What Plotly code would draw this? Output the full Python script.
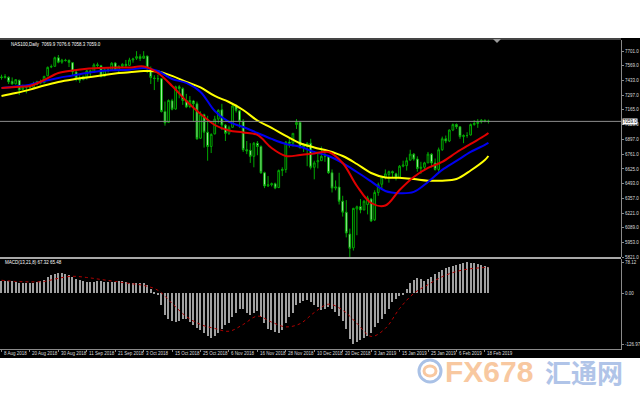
import plotly.graph_objects as go

# --- data (NAS100 daily, 8 Aug 2018 - 19 Feb 2019) ---
opens = [7465, 7460, 7462, 7425, 7402, 7435, 7350, 7368, 7385, 7372,
         7398, 7420, 7412, 7475, 7555, 7562, 7640, 7600, 7618, 7615,
         7595, 7510, 7452, 7440, 7465, 7520, 7508, 7575, 7568, 7472,
         7530, 7530, 7592, 7525, 7562, 7580, 7570, 7620, 7635, 7650,
         7635, 7655, 7540, 7455, 7450, 7448, 7150, 7050, 7248, 7172,
         7375, 7358, 7250, 7195, 7245, 7220, 6905, 7120, 6960, 6830,
         6945, 7080, 7165, 7025, 6950, 7005, 7200, 7155, 7060, 6800,
         6795, 6740, 6860, 6830, 6590, 6470, 6480, 6490, 6455, 6610,
         6620, 6870, 6860, 7030, 7050, 6820, 6830, 6860, 6640, 6690,
         6700, 6740, 6735, 6590, 6450, 6460, 6330, 6230, 6030, 5905,
         6260, 6280, 6250, 6300, 6350, 6160, 6410, 6485, 6550, 6575,
         6600, 6580, 6540, 6650, 6655, 6705, 6760, 6715, 6630, 6640,
         6680, 6760, 6680, 6620, 6800, 6900, 6880, 6980, 7030, 7010,
         6920, 6930, 6935, 7030, 7040, 7055, 7070, 7062]
highs = [7485, 7490, 7470, 7460, 7445, 7438, 7395, 7390, 7395, 7420,
         7430, 7440, 7475, 7560, 7578, 7650, 7665, 7630, 7630, 7625,
         7600, 7530, 7480, 7475, 7530, 7530, 7590, 7595, 7575, 7545,
         7548, 7600, 7600, 7570, 7590, 7620, 7640, 7640, 7700, 7672,
         7700, 7660, 7560, 7480, 7485, 7455, 7240, 7260, 7265, 7385,
         7390, 7370, 7310, 7290, 7255, 7240, 7150, 7130, 7110, 6950,
         7110, 7170, 7220, 7035, 7020, 7210, 7215, 7160, 7080, 6880,
         6860, 6870, 6880, 6840, 6600, 6560, 6500, 6500, 6620, 6640,
         6880, 6900, 6950, 7080, 7060, 6860, 6870, 6900, 6700, 6770,
         6830, 6780, 6740, 6620, 6520, 6590, 6380, 6340, 6080, 6270,
         6290, 6350, 6340, 6380, 6360, 6430, 6500, 6560, 6620, 6610,
         6610, 6590, 6660, 6700, 6730, 6800, 6770, 6740, 6690, 6690,
         6780, 6770, 6720, 6820, 6920, 6930, 6985, 7040, 7040, 7010,
         6940, 6960, 7040, 7070, 7080, 7080, 7075, 7075]
lows = [7440, 7450, 7400, 7395, 7395, 7300, 7345, 7315, 7355, 7368,
        7390, 7398, 7410, 7470, 7545, 7558, 7590, 7585, 7605, 7555,
        7480, 7425, 7410, 7435, 7440, 7470, 7505, 7545, 7460, 7468,
        7505, 7528, 7520, 7490, 7545, 7555, 7565, 7595, 7620, 7610,
        7630, 7500, 7400, 7345, 7420, 7140, 7020, 7045, 7160, 7165,
        7270, 7210, 7180, 7180, 7055, 6890, 6900, 6820, 6700, 6770,
        6940, 7040, 6980, 6880, 6935, 7000, 7140, 7000, 6780, 6760,
        6680, 6640, 6750, 6580, 6450, 6460, 6465, 6440, 6450, 6560,
        6590, 6820, 6830, 6990, 6810, 6780, 6650, 6620, 6530, 6630,
        6700, 6690, 6580, 6410, 6430, 6300, 6190, 6000, 5820, 5880,
        6020, 6220, 6250, 6210, 6140, 6150, 6380, 6450, 6530, 6500,
        6550, 6520, 6540, 6640, 6610, 6700, 6700, 6600, 6580, 6620,
        6680, 6640, 6610, 6600, 6790, 6860, 6870, 6970, 6990, 6900,
        6860, 6910, 6930, 7020, 7000, 7040, 7050, 7040]
closes = [7460, 7468, 7420, 7400, 7440, 7345, 7370, 7380, 7370, 7400,
          7422, 7410, 7470, 7552, 7560, 7640, 7600, 7618, 7615, 7598,
          7510, 7455, 7435, 7470, 7520, 7505, 7575, 7570, 7470, 7530,
          7528, 7590, 7530, 7562, 7580, 7568, 7620, 7628, 7650, 7632,
          7655, 7540, 7460, 7450, 7448, 7150, 7045, 7250, 7170, 7375,
          7360, 7250, 7190, 7250, 7220, 6900, 7120, 6960, 6830, 6940,
          7080, 7160, 7025, 6950, 7000, 7200, 7160, 7060, 6800, 6790,
          6740, 6860, 6830, 6590, 6470, 6480, 6490, 6450, 6610, 6620,
          6870, 6860, 6950, 7050, 6820, 6840, 6860, 6640, 6680, 6700,
          6740, 6740, 6590, 6450, 6460, 6330, 6230, 6040, 5900, 6265,
          6280, 6250, 6330, 6360, 6150, 6410, 6480, 6550, 6580, 6600,
          6590, 6540, 6650, 6660, 6700, 6760, 6715, 6630, 6640, 6680,
          6760, 6680, 6620, 6800, 6900, 6880, 6980, 7030, 7010, 6920,
          6930, 6930, 7030, 7040, 7055, 7070, 7062, 7059]

# moving averages, read every 4th bar
ma_index = [0, 4, 8, 12, 16, 20, 24, 28, 32, 36, 40, 44, 48, 52, 56, 60, 64, 68,
            72, 76, 80, 84, 88, 92, 96, 100, 104, 108, 112, 116, 120, 124, 128,
            132, 136, 137]
ma_red = [7364, 7373, 7382, 7437, 7501, 7524, 7540, 7547, 7551, 7551, 7560, 7501,
          7382, 7245, 7127, 7026, 6976, 6958, 6935, 6816, 6743, 6752, 6766, 6780,
          6679, 6469, 6314, 6291, 6433, 6552, 6634, 6689, 6775, 6853, 6930, 6953]
ma_blue = [7364, 7378, 7394, 7428, 7456, 7478, 7501, 7519, 7526, 7530, 7547, 7519,
           7446, 7410, 7328, 7154, 7054, 7008, 6953, 6899, 6853, 6828, 6780, 6743,
           6679, 6597, 6511, 6424, 6403, 6415, 6506, 6616, 6698, 6780, 6844, 6862]
ma_yellow = [7291, 7318, 7349, 7387, 7419, 7442, 7460, 7478, 7497, 7507, 7519, 7515,
             7474, 7419, 7369, 7291, 7236, 7163, 7067, 6999, 6926, 6859, 6821, 6789,
             6743, 6670, 6588, 6547, 6545, 6533, 6518, 6518, 6533, 6611, 6707, 6743]

macd_hist = [30, 31, 32, 30, 28, 27, 26, 25, 25, 26,
             28, 30, 34, 40, 46, 50, 52, 52, 50, 46,
             42, 37, 33, 30, 28, 28, 29, 30, 30, 29,
             28, 28, 29, 30, 30, 29, 27, 26, 26, 27,
             26, 20, 10, 3, -5, -30, -55, -65, -70, -72,
             -68, -63, -65, -72, -80, -88, -92, -100, -106, -112,
             -108, -100, -89, -80, -73, -60, -48, -38, -40, -48,
             -55, -50, -44, -58, -75, -89, -93, -98, -100, -93,
             -75, -60, -48, -30, -23, -20, -17, -22, -28, -35,
             -42, -40, -35, -40, -46, -56, -68, -90, -115, -127,
             -122, -118, -113, -106, -100, -85, -75, -65, -52, -38,
             -22, -13, -6, -2, 10, 25, 34, 38, 36, 32,
             35, 42, 50, 55, 60, 63, 66, 68, 72, 75,
             77, 78, 77, 76, 74, 72, 70, 67.32]
macd_signal = [33, 30, 29, 30, 38, 43, 40, 35, 30, 25, 20, 8, -25, -58, -78, -88,
               -95, -78, -57, -72, -84, -76, -48, -27, -42, -75, -108, -88, -38, 0,
               22, 42, 55, 62, 65, 65.48]

date_ticks = [0, 8, 16, 24, 32, 40, 48, 56, 64, 72, 80, 88, 96, 104, 112, 120, 128, 136]
date_labels = ["8 Aug 2018", "20 Aug 2018", "30 Aug 2018", "11 Sep 2018", "21 Sep 2018",
               "3 Oct 2018", "15 Oct 2018", "25 Oct 2018", "6 Nov 2018", "16 Nov 2018",
               "28 Nov 2018", "10 Dec 2018", "20 Dec 2018", "3 Jan 2019", "15 Jan 2019",
               "25 Jan 2019", "6 Feb 2019", "18 Feb 2019"]
price_ticks = [7701.0, 7569.0, 7433.0, 7297.0, 7165.0, 7029.0, 6897.0, 6761.0,
               6625.0, 6493.0, 6357.0, 6221.0, 6089.0, 5953.0, 5821.0]
macd_ticks = [78.12, 0.00, -126.97]
last_price = 7059.0

bars = list(range(len(closes)))

# pixel helpers for the 640x400 frame (plot area x 0..621, y 40..349)
def px(x):
    return x / 621.0

def py(y):
    return (349.0 - y) / 309.0

AXIS = "#8a8a8a"
TXT = "#dcdcdc"
FONT = "Liberation Sans"

fig = go.Figure()

fig.add_trace(go.Candlestick(
    x=bars, open=opens, high=highs, low=lows, close=closes,
    increasing=dict(line=dict(color="#00a800", width=1), fillcolor="#000000"),
    decreasing=dict(line=dict(color="#00a800", width=1), fillcolor="#ccffcc"),
    whiskerwidth=0, showlegend=False, hoverinfo="skip",
))
for vals, col in [(ma_yellow, "#ffff00"), (ma_blue, "#0000f0"), (ma_red, "#e00000")]:
    fig.add_trace(go.Scatter(
        x=ma_index, y=vals, mode="lines", line=dict(color=col, width=2, shape="spline"),
        showlegend=False, hoverinfo="skip",
    ))

fig.add_trace(go.Bar(
    x=bars, y=macd_hist, width=0.35, marker=dict(color="#a0a0a0", line=dict(width=0)),
    xaxis="x2", yaxis="y2", showlegend=False, hoverinfo="skip",
))
fig.add_trace(go.Scatter(
    x=ma_index, y=macd_signal, mode="lines",
    line=dict(color="#b00000", width=1, dash="dot", shape="spline"),
    xaxis="x2", yaxis="y2", showlegend=False, hoverinfo="skip",
))

xr = [-0.42, 174.3]
tickfont = dict(family=FONT, size=4.5, color=TXT)

fig.update_layout(
    width=640, height=400,
    margin=dict(l=0, r=19, t=40, b=51),
    paper_bgcolor="white", plot_bgcolor="black",
    bargap=0,
    xaxis=dict(domain=[0, 1], range=xr, anchor="y", showticklabels=False,
               showgrid=False, zeroline=False, automargin=False,
               rangeslider=dict(visible=False)),
    yaxis=dict(domain=[py(257), 1], range=[5821, 7802], side="right",
               tickvals=price_ticks, ticktext=[f"{v:.1f}" for v in price_ticks],
               tickfont=tickfont, showgrid=False, zeroline=False, automargin=False,
               showline=True, linecolor=AXIS, ticks="outside", ticklen=2,
               tickcolor=AXIS, anchor="x"),
    xaxis2=dict(domain=[0, 1], range=xr, anchor="y2", matches="x",
                tickvals=date_ticks, showticklabels=False, ticks="outside",
                ticklen=2, tickcolor=AXIS, showline=True, linecolor=AXIS,
                showgrid=False, zeroline=False, automargin=False),
    yaxis2=dict(domain=[0, py(259)], range=[-139.5, 86.4], side="right",
                tickvals=macd_ticks, ticktext=["78.12", "0.00", "-126.97"],
                tickfont=tickfont, showgrid=False, zeroline=False, automargin=False,
                showline=True, linecolor=AXIS, ticks="outside", ticklen=2,
                tickcolor=AXIS, anchor="x2"),
)

shapes = [
    # black terminal background
    dict(type="rect", xref="paper", yref="paper", x0=0, x1=px(640),
         y0=py(358), y1=py(38), fillcolor="black", line=dict(width=0), layer="below"),
    # top frame
    dict(type="line", xref="paper", yref="paper", x0=0, x1=1, y0=py(39), y1=py(39),
         line=dict(color=AXIS, width=1)),
    # separator between panels
    dict(type="line", xref="paper", yref="paper", x0=0, x1=1, y0=py(258), y1=py(258),
         line=dict(color="#a8a8a8", width=2)),
    # last price line
    dict(type="line", xref="paper", yref="y", x0=0, x1=1, y0=last_price, y1=last_price,
         line=dict(color="#8c8c8c", width=1)),
    # chart shift marker
    dict(type="path", xref="paper", yref="paper",
         path=f"M {px(493)} {py(39)} L {px(501)} {py(39)} L {px(497)} {py(43)} Z",
         fillcolor="#9a9a9a", line=dict(width=0)),
    # watermark logo rings
    dict(type="circle", xref="paper", yref="paper", x0=px(419), x1=px(441),
         y0=py(382), y1=py(360), line=dict(color="#a9c1e6", width=3)),
    dict(type="circle", xref="paper", yref="paper", x0=px(424), x1=px(436),
         y0=py(376), y1=py(366), line=dict(color="#f8c8a0", width=3)),
]
fig.update_layout(shapes=shapes)

ann = [
    dict(x=px(9), y=py(44.5), xref="paper", yref="paper", xanchor="left", yanchor="middle",
         text="NAS100,Daily  7069.9 7076.6 7058.3 7059.0", showarrow=False,
         font=dict(family=FONT, size=4.5, color="white")),
    dict(x=px(3), y=py(262.5), xref="paper", yref="paper", xanchor="left", yanchor="middle",
         text="MACD(13,21,8) 67.32 65.48", showarrow=False,
         font=dict(family=FONT, size=4.5, color="white")),
    dict(x=1, y=last_price, xref="paper", yref="y", xanchor="left", yanchor="middle",
         xshift=1, text=f"{last_price:.1f}", showarrow=False, bgcolor="white",
         borderpad=0, font=dict(family=FONT, size=4.5, color="black")),
    dict(x=px(443), y=py(371), xref="paper", yref="paper", xanchor="left", yanchor="middle",
         text="<b>FX678</b>", showarrow=False,
         font=dict(family=FONT, size=30, color="#f8c8a0")),
    dict(x=px(543), y=py(371), xref="paper", yref="paper", xanchor="left", yanchor="middle",
         text="<b>汇通网</b>", showarrow=False,
         font=dict(family="Noto Sans CJK SC", size=26, color="#b0c4e8")),
]
for i, lab in zip(date_ticks, date_labels):
    ann.append(dict(x=i, y=py(353.5), xref="x2", yref="paper", xanchor="left",
                    yanchor="middle", xshift=0.5, text=lab, showarrow=False,
                    font=dict(family=FONT, size=4.5, color=TXT)))
fig.update_layout(annotations=ann)

# the page body has a default 8px margin; drop it so the figure sits at 0,0
fig.write_html("out.html", config={"displayModeBar": False},
               post_script="document.body.style.margin='0px';")
